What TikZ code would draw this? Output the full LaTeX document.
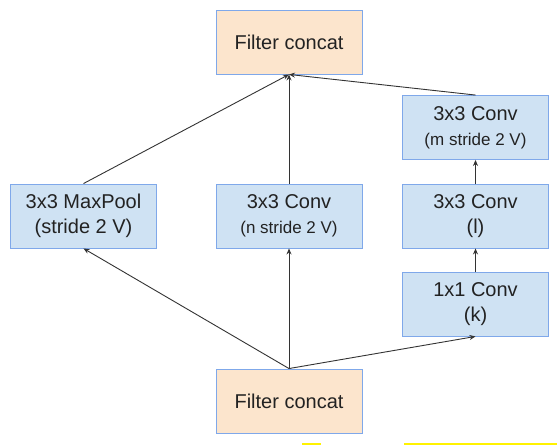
\documentclass[tikz,border=0pt]{standalone}
\usepackage{fontspec}
\setmainfont{Liberation Sans}
\usetikzlibrary{arrows.meta}
\definecolor{concatfill}{HTML}{FCE5CD}
\definecolor{convfill}{HTML}{CFE2F3}
\definecolor{boxborder}{HTML}{7FA8EA}
\definecolor{txt}{HTML}{222222}
\definecolor{edge}{HTML}{333333}
\tikzset{
  concatbox/.style={draw=boxborder, line width=0.9pt, fill=concatfill, minimum width=146pt, minimum height=64pt, inner sep=0pt, align=center, text=txt, font=\fontsize{20}{25}\selectfont},
  convbox/.style={draw=boxborder, line width=0.9pt, fill=convfill, minimum width=146pt, minimum height=64pt, inner sep=0pt, align=center, text=txt, font=\fontsize{20}{25}\selectfont},
  conn/.style={draw=edge, line width=0.9pt, -{Stealth[length=6pt,width=5pt]}},
}
\newcommand{\smallline}[1]{{\fontsize{17}{21}\selectfont #1}}
\begin{document}
\begin{tikzpicture}[x=1pt,y=-1pt]
\useasboundingbox (0,0) rectangle (557,445);
\fill[yellow] (302,442.5) rectangle (321,445);
\fill[yellow] (404,442.5) rectangle (557,445);
\node[concatbox] (top) at (289,42) {Filter concat};
\node[concatbox] (bot) at (289,401) {Filter concat};
\node[convbox] (pool) at (83.5,216) {3x3 MaxPool\\(stride 2 V)};
\node[convbox] (mid) at (289,216) {3x3 Conv\\\smallline{(n stride 2 V)}};
\node[convbox] (r3) at (475.5,127.5) {3x3 Conv\\\smallline{(m stride 2 V)}};
\node[convbox] (r2) at (475.5,216) {3x3 Conv\\(l)};
\node[convbox] (r1) at (475.5,304) {1x1 Conv\\(k)};
\draw[conn] (bot.north) -- (pool.south);
\draw[conn] (bot.north) -- (mid.south);
\draw[conn] (bot.north) -- (r1.south);
\draw[conn] (r1.north) -- (r2.south);
\draw[conn] (r2.north) -- (r3.south);
\draw[conn] (pool.north) -- (top.south);
\draw[conn] (mid.north) -- (top.south);
\draw[conn] (r3.north) -- (top.south);
\end{tikzpicture}
\end{document}
